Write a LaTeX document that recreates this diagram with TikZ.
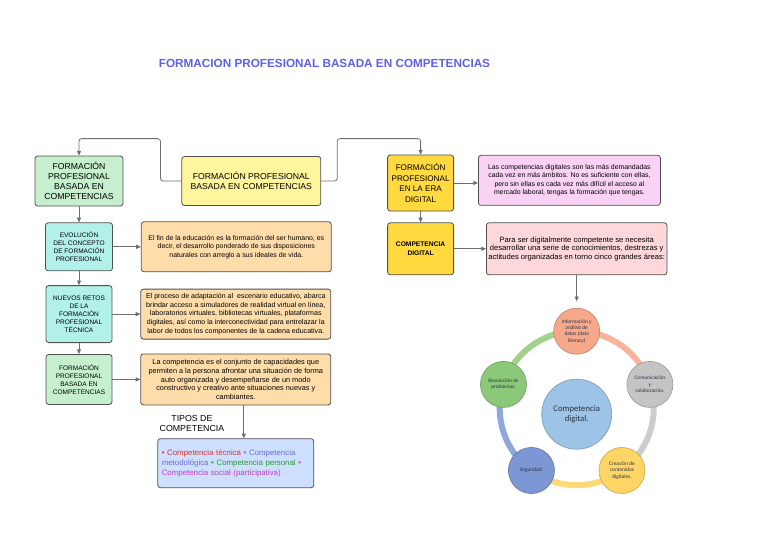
\documentclass[tikz,border=0pt]{standalone}
\usepackage{fontspec}
\setmainfont{Liberation Sans}
\newfontfamily\cyclefont{Carlito}
\usetikzlibrary{arrows.meta, positioning, backgrounds, calc}

\definecolor{titleblue}{RGB}{95,95,230}
\definecolor{boxline}{RGB}{80,80,80}
\definecolor{arrowgray}{RGB}{110,110,110}
\definecolor{fpgreen}{RGB}{198,239,206}
\definecolor{fpyellow}{RGB}{255,245,157}
\definecolor{fpgold}{RGB}{255,217,61}
\definecolor{fppink}{RGB}{250,210,245}
\definecolor{fpcyan}{RGB}{178,240,234}
\definecolor{fppeach}{RGB}{255,221,170}
\definecolor{fprose}{RGB}{253,215,218}
\definecolor{fpblue}{RGB}{205,224,255}
\definecolor{kred}{RGB}{224,49,47}
\definecolor{kblue}{RGB}{106,106,230}
\definecolor{kgreen}{RGB}{46,154,46}
\definecolor{kmag}{RGB}{196,60,196}
\definecolor{cycsalmon}{RGB}{246,168,138}
\definecolor{cycgray}{RGB}{196,196,196}
\definecolor{cycgold}{RGB}{255,214,102}
\definecolor{cycblue}{RGB}{125,150,212}
\definecolor{cycgreen}{RGB}{140,200,122}
\definecolor{cyccenter}{RGB}{157,195,230}
\definecolor{cyctext}{RGB}{40,50,70}
\definecolor{arcsalmon}{RGB}{248,180,155}
\definecolor{arcgray}{RGB}{205,205,205}
\definecolor{arcgold}{RGB}{255,216,120}
\definecolor{arcblue}{RGB}{143,168,220}
\definecolor{arcgreen}{RGB}{160,210,140}

\tikzset{
    fpbox/.style={rectangle, draw=boxline, fill=#1, rounded corners=2pt, align=center, line width=0.6pt, inner sep=1.5pt},
    fphead/.style={font=\fontsize{6.5}{7.6}\selectfont},
    fpsmall/.style={font=\fontsize{4.9}{6.1}\selectfont},
    fptext/.style={font=\fontsize{#1}{6.4}\selectfont},
    fptitle/.style={font=\bfseries\fontsize{8.8}{10}\selectfont, text=titleblue, inner sep=0pt},
    fplabel/.style={font=\fontsize{6.6}{8.2}\selectfont, align=center, inner sep=0pt},
    fparrow/.style={-{Triangle[length=3.5pt, width=3pt]}, draw=arrowgray, line width=0.6pt},
    cycnode/.style={circle, draw=#1!80!black, fill=#1, line width=0.5pt, minimum size=34.5pt, inner sep=0pt, align=center, text=cyctext, font=\cyclefont\fontsize{4}{4.7}\selectfont},
    cycarc/.style={draw=#1, line width=4.5pt}
}

\begin{document}
\begin{tikzpicture}[x=0.75pt, y=-0.75pt]
\useasboundingbox (0,0) rectangle (768,543);

\node[fptitle] (title) at (324.5,63) {FORMACION PROFESIONAL BASADA EN COMPETENCIAS};

% top row
\node[fpbox=fpgreen, fphead, minimum width=66pt, minimum height=37.5pt] (fpA) at (79,181) {FORMACIÓN\\PROFESIONAL\\BASADA EN\\COMPETENCIAS};
\node[fpbox=fpyellow, fphead, minimum width=104.25pt, minimum height=36.75pt, right=43.5pt of fpA] (fpB) {FORMACIÓN PROFESIONAL\\BASADA EN COMPETENCIAS};
\node[fpbox=fpgold, font=\fontsize{6.1}{8}\selectfont, minimum width=49.5pt, minimum height=42pt, right=49.5pt of fpB, yshift=-1.5pt] (fpC) {FORMACIÓN\\PROFESIONAL\\EN LA ERA\\DIGITAL};
\node[fpbox=fppink, fptext=5.15, minimum width=136.5pt, minimum height=37.5pt, right=18pt of fpC, yshift=2pt] (fpD) {Las competencias digitales son las más demandadas\\cada vez en más ámbitos. No es suficiente con ellas,\\pero sin ellas es cada vez más difícil el acceso al\\mercado laboral, tengas la formación que tengas.};

% left column
\node[fpbox=fpcyan, fpsmall, minimum width=50.25pt, minimum height=36pt, below=12pt of fpA] (fpE) {EVOLUCIÓN\\DEL CONCEPTO\\DE FORMACIÓN\\PROFESIONAL};
\node[fpbox=fppeach, fptext=5.2, minimum width=142.5pt, minimum height=37.5pt, right=21pt of fpE] (fpF) {El fin de la educación es la formación del ser humano, es\\decir, el desarrollo ponderado de sus disposiciones\\naturales con arreglo a sus ideales de vida.};
\node[fpbox=fpcyan, fpsmall, minimum width=49.5pt, minimum height=42.75pt, below=10.5pt of fpE] (fpG) {NUEVOS RETOS\\DE LA\\FORMACIÓN\\PROFESIONAL\\TÉCNICA};
\node[fpbox=fppeach, fptext=5.3, minimum width=142.5pt, minimum height=37.5pt, right=21pt of fpG] (fpH) {El proceso de adaptación al\ \ escenario educativo, abarca\\brindar acceso a simuladores de realidad virtual en línea,\\laboratorios virtuales, bibliotecas virtuales, plataformas\\digitales, así como la interconectividad para entrelazar la\\labor de todos los componentes de la cadena educativa.};
\node[fpbox=fpgreen, fpsmall, minimum width=49.5pt, minimum height=37.5pt, below=8.25pt of fpG] (fpI) {FORMACIÓN\\PROFESIONAL\\BASADA EN\\COMPETENCIAS};
\node[fpbox=fppeach, fptext=5.5, minimum width=142.5pt, minimum height=38.25pt, right=21pt of fpI] (fpJ) {La competencia es el conjunto de capacidades que\\permiten a la persona afrontar una situación de forma\\auto organizada y desempeñarse de un modo\\constructivo y creativo ante situaciones nuevas y\\cambiantes.};
\node[fpbox=fpblue, font=\fontsize{5.9}{7.5}\selectfont, align=left, text width=111pt, inner sep=3pt, minimum height=36.75pt, below=24.75pt of fpJ] (fpK) {\textcolor{kred}{• Competencia técnica} \textcolor{kblue}{• Competencia}\\\textcolor{kblue}{metodológica} \textcolor{kgreen}{• Competencia personal} \textcolor{kmag}{•}\\\textcolor{kmag}{Competencia social (participativa)}};
\node[fplabel, above right=4.5pt and 1.5pt of fpK.north west] (tipos) {TIPOS DE\\COMPETENCIA};

% right column
\node[fpbox=fpgold, font=\bfseries\fontsize{5}{6.4}\selectfont, minimum width=49.5pt, minimum height=39pt, below=8.25pt of fpC] (fpL) {COMPETENCIA\\DIGITAL};
\node[fpbox=fprose, fptext=5.7, minimum width=135pt, minimum height=39pt, right=24pt of fpL] (fpM) {Para ser digitalmente competente se necesita\\desarrollar una serie de conocimientos, destrezas y\\actitudes organizadas en torno cinco grandes áreas:};

% cycle of the five areas
\coordinate[below=99.75pt of fpM.south] (cyc);
\node[cycnode=cycsalmon] (cInfo) at ($(cyc)+(90:57.75pt)$) {Información y\\análisis de\\datos (data\\literacy)};
\node[cycnode=cycgray] (cCom) at ($(cyc)+(18:57.75pt)$) {Comunicación\\y\\colaboración.};
\node[cycnode=cycgold] (cCrea) at ($(cyc)+(-54:57.75pt)$) {Creación de\\contenidos\\digitales.};
\node[cycnode=cycblue] (cSeg) at ($(cyc)+(-126:57.75pt)$) {Seguridad.};
\node[cycnode=cycgreen] (cRes) at ($(cyc)+(162:57.75pt)$) {Resolución de\\problemas.};
\node[cycnode=cyccenter, minimum size=52.5pt, font=\cyclefont\fontsize{6.5}{7.5}\selectfont] (cDig) at ($(cyc)+(0,-4.5pt)$) {Competencia\\digital.};

\begin{scope}[on background layer]
    \draw[cycarc=arcsalmon] (cInfo.center) arc[start angle=90, end angle=18, radius=57.75pt];
    \draw[cycarc=arcgray] (cCom.center) arc[start angle=18, end angle=-54, radius=57.75pt];
    \draw[cycarc=arcgold] (cCrea.center) arc[start angle=-54, end angle=-126, radius=57.75pt];
    \draw[cycarc=arcblue] (cSeg.center) arc[start angle=234, end angle=162, radius=57.75pt];
    \draw[cycarc=arcgreen] (cRes.center) arc[start angle=162, end angle=90, radius=57.75pt];
\end{scope}

% connectors
\draw[fparrow, rounded corners=2pt] (fpB.west) -- ++(-15.75pt,0) |- ([yshift=12.75pt]fpA.north) -- (fpA.north);
\draw[fparrow, rounded corners=2pt] (fpB.east) -- ++(12pt,0) |- ([yshift=12pt]fpC.north) -- (fpC.north);
\draw[fparrow] (fpC.east) -- (fpC.east -| fpD.west);
\draw[fparrow] (fpA) -- (fpE);
\draw[fparrow] (fpE) -- (fpF);
\draw[fparrow] (fpE) -- (fpG);
\draw[fparrow] (fpG) -- (fpH);
\draw[fparrow] (fpG) -- (fpI);
\draw[fparrow] (fpI) -- (fpJ);
\draw[fparrow] ([xshift=6pt]fpJ.south) -- ([xshift=6pt]fpK.north);
\draw[fparrow] (fpC) -- (fpL);
\draw[fparrow] (fpL) -- (fpM);
\draw[fparrow, shorten >=5pt] (fpM.south) -- (fpM.south |- cInfo.north);

\end{tikzpicture}
\end{document}
